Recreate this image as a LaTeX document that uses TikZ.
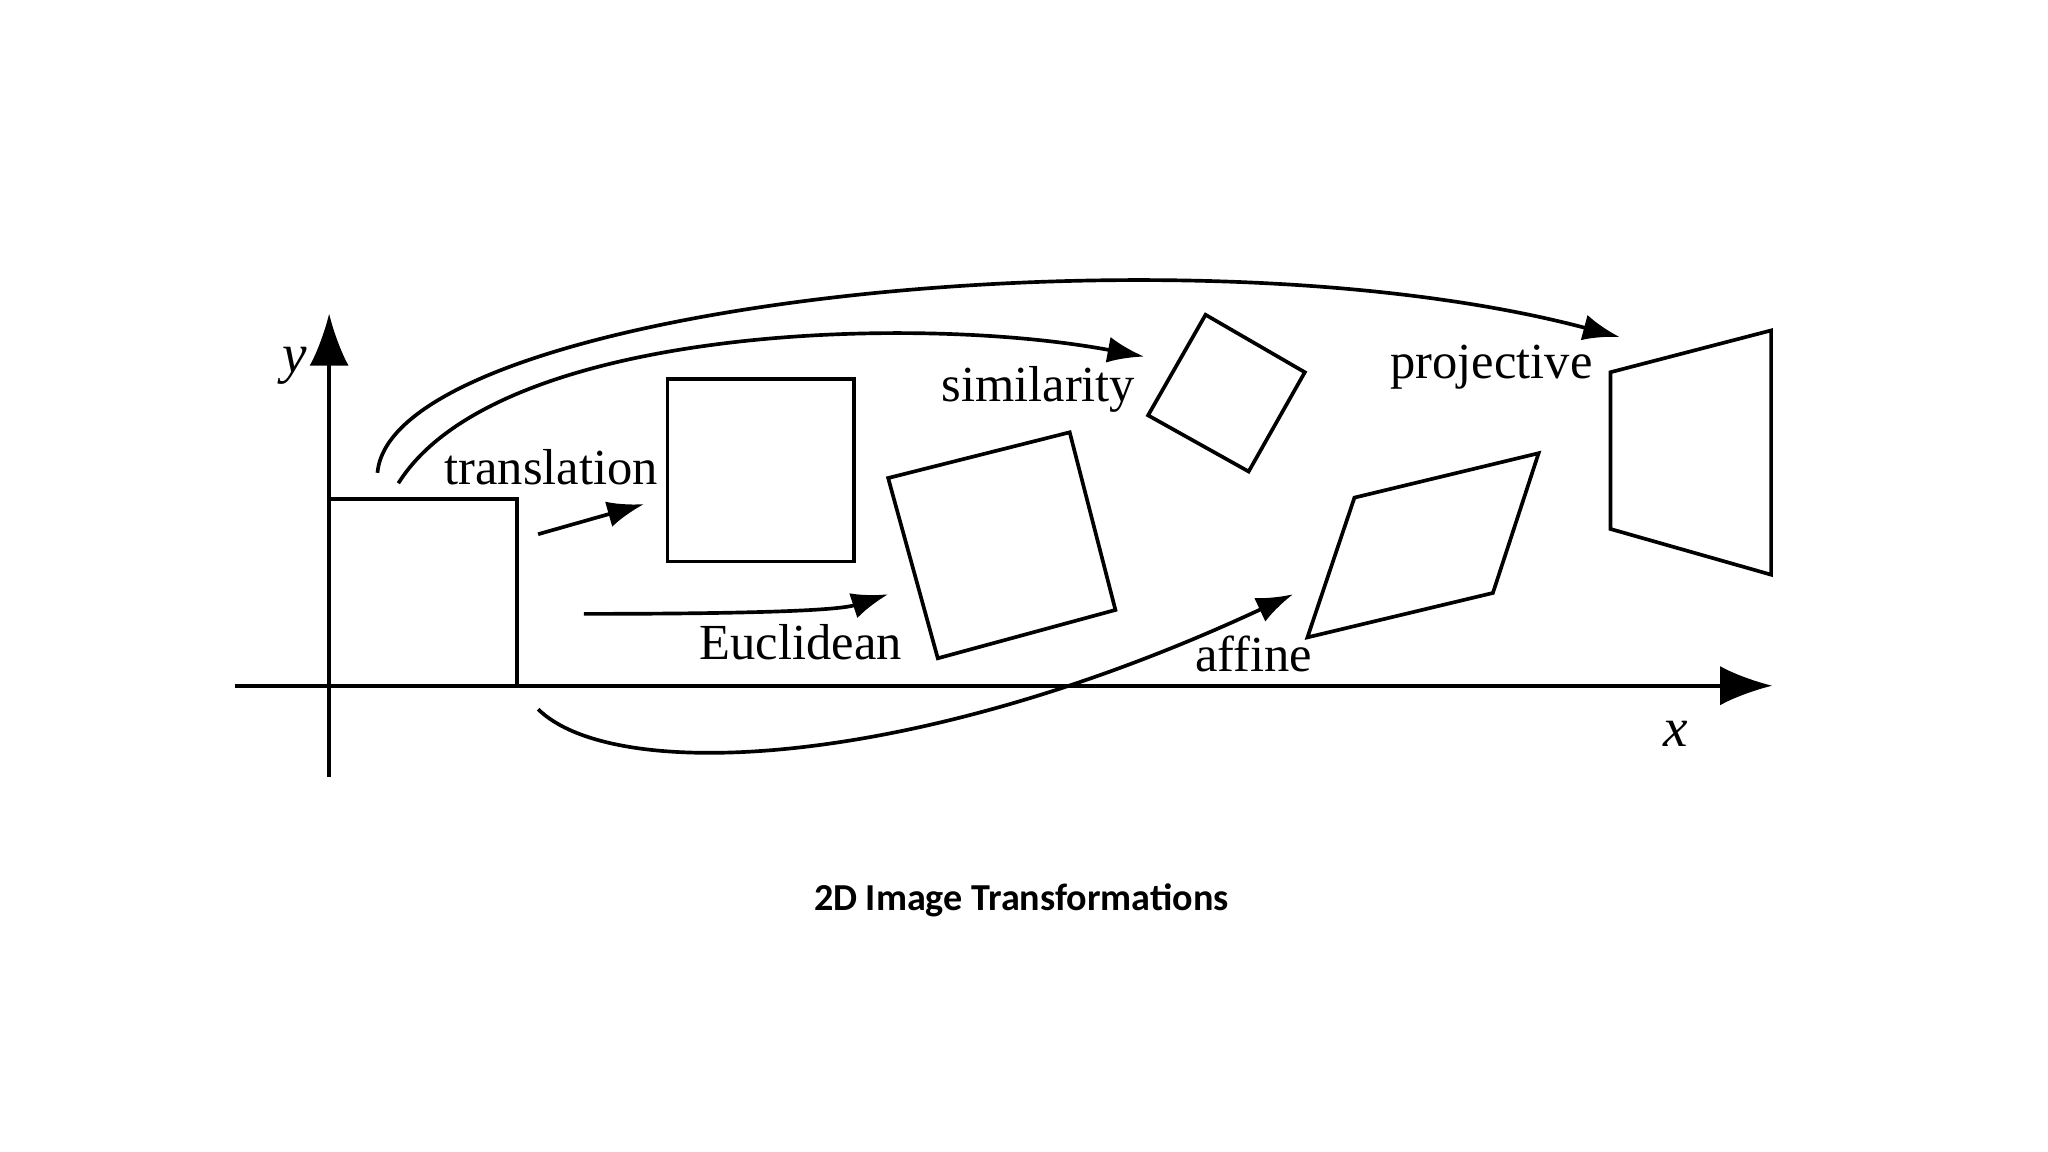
\documentclass[tikz,border=0pt]{standalone}
\usepackage{fontspec}
\setmainfont{Liberation Serif}
\newfontfamily\capfont{Carlito}
\usetikzlibrary{arrows.meta}
\begin{document}
\begin{tikzpicture}[x=0.01cm,y=-0.01cm,
  shp/.style={line width=0.8pt},
  arr/.style={line width=0.8pt,-{Latex[length=0.28cm,width=0.2cm]}},
  axis/.style={line width=0.8pt,-{Latex[length=0.4cm,width=0.3cm]}},
  lbl/.style={font=\fontsize{11}{12}\selectfont,inner sep=0pt}]
\useasboundingbox (0,0) rectangle (1568,882);
% axes
\coordinate (xa) at (180,525); \coordinate (xb) at (1357,525);
\coordinate (ya) at (252,595); \coordinate (yb) at (252,240);
\draw[axis] (xa) -- (xb);
\draw[axis] (ya) -- (yb);
\node[lbl,font=\fontsize{12}{13}\selectfont\itshape] (ylab) at (226,280) {y};
\node[lbl,font=\fontsize{12}{13}\selectfont\itshape] (xlab) at (1283,562) {x};
% shapes
\draw[shp] (252,382) rectangle (396,525);
\draw[shp] (511,290) rectangle (654,430);
\draw[shp] (680,366) -- (819,331) -- (854,467) -- (718,504) -- cycle;
\draw[shp] (879,318) -- (923,241) -- (999,285) -- (956,361) -- cycle;
\draw[shp] (1001,488) -- (1037,381) -- (1178,347) -- (1143,454) -- cycle;
\draw[shp] (1233,285) -- (1356,253) -- (1356,440) -- (1233,405) -- cycle;
% labels
\node[lbl] (tr) at (422,358) {translation};
\node[lbl] (si) at (795,298) {similarity};
\node[lbl] (eu) at (613,492) {Euclidean};
\node[lbl] (af) at (960,501) {affine};
\node[lbl] (pr) at (1142,281) {projective};
% arrows
\coordinate (t1) at (412,409); \coordinate (t2) at (493,386);
\draw[arr] (t1) -- (t2);
\coordinate (e1) at (447,470); \coordinate (e2) at (680,455);
\draw[arr] (e1) .. controls (560,470) and (640,468) .. (e2);
\coordinate (s1) at (305,370); \coordinate (s2) at (876,273);
\draw[arr] (s1) .. controls (380,250) and (700,240) .. (s2);
\coordinate (p1) at (289,362); \coordinate (p2) at (1240,258);
\draw[arr] (p1) .. controls (300,235) and (900,168) .. (p2);
\coordinate (a1) at (412,543); \coordinate (a2) at (990,455);
\draw[arr] (a1) .. controls (470,600) and (700,590) .. (a2);
% caption
\node[inner sep=0pt,font=\capfont\bfseries\fontsize{8.3}{10}\selectfont] (cap) at (782,689) {2D Image Transformations};
\end{tikzpicture}
\end{document}
